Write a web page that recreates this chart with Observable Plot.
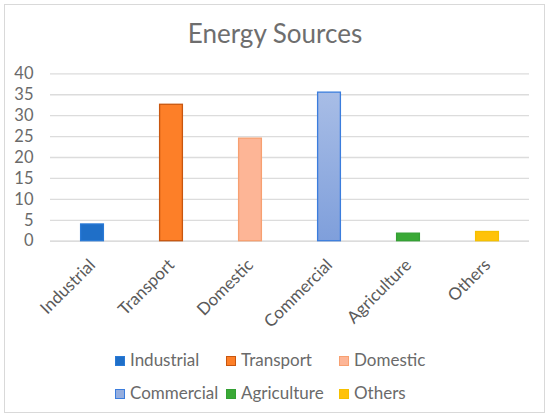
<!DOCTYPE html>
<html>
<head>
<meta charset="utf-8">
<script src="https://cdn.jsdelivr.net/npm/d3@7"></script>
<script src="https://cdn.jsdelivr.net/npm/@observablehq/plot@0.6"></script>
<style>
  html, body { margin: 0; padding: 0; background: #fff; }
  #wrap { position: relative; width: 550px; height: 418px; overflow: hidden; font-family: Lato, "Open Sans", sans-serif; }
  #frame { position: absolute; left: 4px; top: 4px; width: 541px; height: 409px; border: 1px solid #d9d9d9; box-sizing: border-box; }
  #title { position: absolute; left: 0; width: 550px; top: 18px; text-align: center; font-size: 26px; color: #6e6e6e; line-height: 30px; }
  #chart { position: absolute; left: 0; top: 0; }
  .lg { position: absolute; font-size: 17px; color: #6a6a6a; line-height: 20px; white-space: nowrap; }
  .sw { display: inline-block; width: 10px; height: 10px; box-sizing: border-box; border-width: 1px; border-style: solid; margin-right: 5px; vertical-align: 0px; }
</style>
</head>
<body>
<div id="wrap">
  <div id="frame"></div>
  <div id="chart"></div>
  <div id="title">Energy Sources</div>
</div>
<script>
const categories = ["Industrial", "Transport", "Domestic", "Commercial", "Agriculture", "Others"];
const values = [4.0, 32.6, 24.5, 35.5, 1.8, 2.2];
const yTicks = [0, 5, 10, 15, 20, 25, 30, 35, 40];
const title = "Energy Sources";

const fills = ["#1f6fc8", "#fd7f28", "#fdb596", "url(#commGrad)", "#3aa936", "#ffc20a"];
const strokes = ["#2a7ad6", "#c8560f", "#f7a071", "#3b7ddd", "#33a033", "#f5c000"];
const swatchFills = ["#1f6fc8", "#fd7f28", "#fdb596", "#95aedf", "#3aa936", "#ffc20a"];

const data = categories.map((c, i) => ({category: c, value: values[i], i}));

const plot = Plot.plot({
  width: 550,
  height: 418,
  marginTop: 73.3,
  marginBottom: 177.3,
  marginLeft: 50,
  marginRight: 21,
  style: {fontFamily: "Lato, 'Open Sans', sans-serif", background: "transparent"},
  x: {domain: categories, paddingInner: 0.69, paddingOuter: 0.345, axis: null},
  y: {domain: [0, 40], axis: null},
  marks: [
    Plot.ruleY(yTicks.filter(d => d > 0), {stroke: "#dcdcdc", strokeWidth: 1.3}),
    Plot.ruleY([0], {stroke: "#d0d0d0", strokeWidth: 1.3}),
    Plot.barY(data, {
      x: "category", y: "value",
      fill: d => fills[d.i], stroke: d => strokes[d.i], strokeWidth: 1.3,
      insetLeft: 0.6, insetRight: 0.6
    }),
    Plot.text(yTicks, {
      y: d => d, text: d => String(d), frameAnchor: "left", textAnchor: "end",
      dx: -17, fontSize: 16.5, fill: "#6a6a6a"
    }),
    Plot.text(categories, {
      x: d => d, y: () => 0, text: d => d, textAnchor: "end", rotate: -45,
      dx: 0, dy: 21, fontSize: 17, fill: "#5a5a5a"
    })
  ]
});

// gradient for Commercial bar
const svg = d3.select(plot);
const defs = svg.insert("defs", ":first-child");
const g = defs.append("linearGradient").attr("id", "commGrad").attr("x1", 0).attr("y1", 0).attr("x2", 0).attr("y2", 1);
g.append("stop").attr("offset", "0%").attr("stop-color", "#a8bde6");
g.append("stop").attr("offset", "100%").attr("stop-color", "#7f9fdb");

document.getElementById("chart").appendChild(plot);
document.getElementById("title").textContent = title;

// legend (two rows, three columns)
const colLeft = [115, 226, 339];
const rowTop = [350, 383];
const wrap = document.getElementById("wrap");
categories.forEach((c, i) => {
  const el = document.createElement("div");
  el.className = "lg";
  el.style.left = colLeft[i % 3] + "px";
  el.style.top = rowTop[Math.floor(i / 3)] + "px";
  const sw = document.createElement("span");
  sw.className = "sw";
  sw.style.background = swatchFills[i];
  sw.style.borderColor = strokes[i];
  el.appendChild(sw);
  el.appendChild(document.createTextNode(c));
  wrap.appendChild(el);
});
</script>
</body>
</html>
